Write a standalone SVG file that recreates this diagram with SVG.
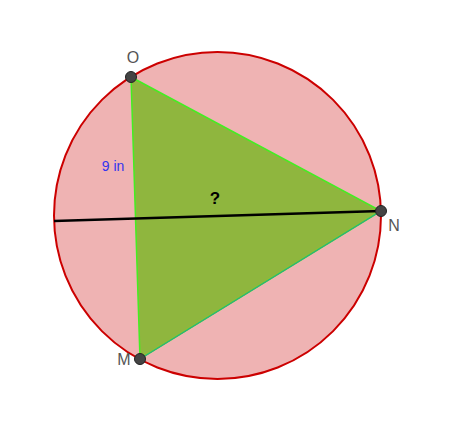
<svg xmlns="http://www.w3.org/2000/svg" width="450" height="430" viewBox="0 0 450 430">
<style>
.pt{fill:#444;stroke:#222;stroke-width:1}
.lbl{font-family:"Liberation Sans",Arial,sans-serif;font-size:16px;fill:#555}
</style>
<g id="circle"><circle cx="217.5" cy="215.5" r="163.5" fill="#efb3b3" stroke="#cc0000" stroke-width="2"/></g>
<g id="triangle"><polygon points="131,77 381,211 140,359" fill="#8fb63e" stroke="#44ee22" stroke-width="1.5"/>
<line x1="381" y1="211" x2="140" y2="359" stroke="#2a9a9a" stroke-width="1"/></g>
<g id="connectors"><line x1="54" y1="221" x2="381" y2="211" stroke="#000" stroke-width="2.5"/></g>
<g id="O"><circle class="pt" cx="131" cy="77" r="5.5"/><text class="lbl" x="133" y="63" text-anchor="middle">O</text></g>
<g id="N"><circle class="pt" cx="381" cy="211" r="5.5"/><text class="lbl" x="394" y="231" text-anchor="middle">N</text></g>
<g id="M"><circle class="pt" cx="140" cy="359" r="5.5"/><text class="lbl" x="124" y="365" text-anchor="middle">M</text></g>
<text x="113" y="171" text-anchor="middle" font-family="Liberation Sans,Arial,sans-serif" font-size="14" fill="#3333ee">9 in</text>
<text x="215" y="204" text-anchor="middle" font-family="Liberation Sans,Arial,sans-serif" font-size="17" font-weight="bold" fill="#000">?</text>
</svg>
